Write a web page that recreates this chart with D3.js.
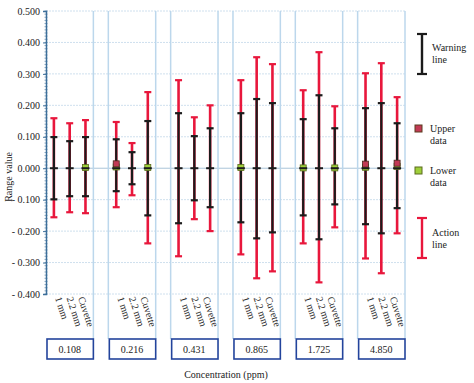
<!doctype html>
<meta charset="utf-8" />
<script src="https://cdn.jsdelivr.net/npm/d3@7"></script>
<style>
    body {
        margin: 0;
        background: white;
    }

    text {
        font-family: "Liberation Serif", "Times New Roman", Times, "DejaVu Serif", serif;
        font-size: 10px;
        fill: #222;
    }

    svg {
        display: block
    }
</style>
<svg id="chart"></svg>
<script>
    // concentrations (ppm), one group per value
    var groups = ['0.108', '0.216', '0.431', '0.865', '1.725', '4.850'];
    var cells = ['1 mm', '2.2 mm', 'Cuvette'];

    // action line limits (red), per group, per cell
    var actionHigh = [
        [0.159, 0.143, 0.153], [0.147, 0.080, 0.242], [0.280, 0.162, 0.200],
        [0.280, 0.353, 0.331], [0.248, 0.369, 0.197], [0.302, 0.334, 0.226]];
    var actionLow = [
        [-0.156, -0.140, -0.143], [-0.124, -0.086, -0.239], [-0.280, -0.162, -0.200],
        [-0.274, -0.350, -0.328], [-0.239, -0.363, -0.188], [-0.287, -0.334, -0.207]];
    // warning line limits (black)
    var warnHigh = [
        [0.099, 0.086, 0.099], [0.092, 0.051, 0.150], [0.175, 0.102, 0.127],
        [0.175, 0.220, 0.207], [0.156, 0.232, 0.127], [0.191, 0.207, 0.143]];
    var warnLow = [
        [-0.099, -0.089, -0.089], [-0.073, -0.051, -0.150], [-0.175, -0.102, -0.124],
        [-0.172, -0.223, -0.204], [-0.150, -0.226, -0.115], [-0.178, -0.207, -0.127]];
    // upper / lower data points (null where hidden)
    var upperData = [
        [null, null, 0.004], [0.014, null, 0.003], [null, null, null],
        [0.006, null, null], [0.003, null, 0.003], [0.013, null, 0.016]];
    var lowerData = [
        [null, null, 0.002], [0.004, null, 0.002], [null, null, null],
        [0.002, null, null], [0.001, null, 0.001], [0.003, null, 0.006]];

    var yTicks = [0.5, 0.4, 0.3, 0.2, 0.1, 0, -0.1, -0.2, -0.3, -0.4];

    var width = 474, height = 383;
    var svg = d3.select('svg#chart')
        .attr('width', width)
        .attr('height', height);

    var plotLeft = 46, plotRight = 405, plotTop = 11, plotBottom = 294;
    var red = '#e8173c', black = '#1b1b1b', blue = '#bcd7ec';

    var y = d3.scaleLinear().domain([-0.4, 0.5]).range([plotBottom, plotTop]);
    var x0 = d3.scaleBand().domain(groups).range([plotLeft, plotRight])
        .paddingInner(0.24).paddingOuter(0);
    var x1 = d3.scalePoint().domain(cells).range([0, x0.bandwidth()]).padding(0.5);
    var xl = d3.scalePoint().domain(cells).range([9, 32]);

    // horizontal grid
    svg.append('g')
        .selectAll('line')
        .data(yTicks)
        .enter()
        .append('line')
        .attr('x1', plotLeft)
        .attr('x2', plotRight)
        .attr('y1', d => y(d))
        .attr('y2', d => y(d))
        .style('stroke', d => d === 0 ? '#a9c4d8' : '#cfe0ee')
        .style('stroke-width', 1)
        .style('stroke-dasharray', d => d === 0 ? null : '2,1');

    // group boundaries + boxes
    var g = svg.selectAll('g.group')
        .data(groups)
        .enter()
        .append('g')
        .attr('class', 'group')
        .attr('transform', d => 'translate(' + x0(d) + ',0)');

    g.filter((d, i) => i > 0).append('line')
        .attr('x1', 0).attr('x2', 0)
        .attr('y1', plotTop).attr('y2', 339)
        .style('stroke', blue).style('stroke-width', 1.5);
    g.append('line')
        .attr('x1', x0.bandwidth()).attr('x2', x0.bandwidth())
        .attr('y1', plotTop).attr('y2', 339)
        .style('stroke', blue).style('stroke-width', 1.5);

    g.append('rect')
        .attr('x', 1)
        .attr('y', 339)
        .attr('width', x0.bandwidth() - 1)
        .attr('height', 20)
        .style('fill', 'white')
        .style('stroke', '#23449c')
        .style('stroke-width', 1.6);
    g.append('text')
        .attr('x', x0.bandwidth() / 2)
        .attr('y', 353)
        .attr('text-anchor', 'middle')
        .text(d => d);

    g.selectAll('text.cell')
        .data(cells)
        .enter()
        .append('text')
        .attr('class', 'cell')
        .attr('transform', d => 'translate(' + xl(d) + ',298) rotate(72)')
        .text(d => d);

    // error bars
    function errBar(sel, lo, hi, color, cap, w) {
        sel.append('line')
            .attr('x1', 0).attr('x2', 0)
            .attr('y1', d => y(d[hi])).attr('y2', d => y(d[lo]))
            .style('stroke', color).style('stroke-width', w);
        [lo, hi].forEach(function (k) {
            sel.append('line')
                .attr('x1', -cap / 2).attr('x2', cap / 2)
                .attr('y1', d => y(d[k])).attr('y2', d => y(d[k]))
                .style('stroke', color).style('stroke-width', 2.2);
        });
    }

    var bars = g.selectAll('g.bar')
        .data((d, gi) => cells.map((c, ci) => ({
            cell: c,
            aHi: actionHigh[gi][ci], aLo: actionLow[gi][ci],
            wHi: warnHigh[gi][ci], wLo: warnLow[gi][ci],
            up: upperData[gi][ci], lo: lowerData[gi][ci]
        })))
        .enter()
        .append('g')
        .attr('class', 'bar')
        .attr('transform', d => 'translate(' + x1(d.cell) + ',0)');

    errBar(bars, 'aLo', 'aHi', red, 7, 2.6);
    errBar(bars, 'wLo', 'wHi', black, 7, 2.2);

    bars.filter(d => d.lo !== null).append('rect')
        .attr('x', -3).attr('y', d => y(d.lo) - 3)
        .attr('width', 6).attr('height', 6)
        .style('fill', '#9fcf3a').style('stroke', '#5a6b1e').style('stroke-width', 0.8);
    bars.filter(d => d.up !== null && d.up - d.lo > 0.006).append('rect')
        .attr('x', -3).attr('y', d => y(d.up) - 3)
        .attr('width', 6).attr('height', 6)
        .style('fill', '#c23a55').style('stroke', '#4a2a1e').style('stroke-width', 0.8);

    bars.append('line')
        .attr('x1', -4).attr('x2', 4)
        .attr('y1', y(0)).attr('y2', y(0))
        .style('stroke', black).style('stroke-width', 2);

    // y axis
    var fmt = d3.format('.3f');
    var axis = d3.axisLeft(y)
        .tickValues(yTicks)
        .tickSize(3)
        .tickFormat(d => d < -0.0001 ? '- ' + fmt(-d) : fmt(Math.abs(d)));
    var ax = svg.append('g')
        .attr('transform', 'translate(' + plotLeft + ',0)')
        .call(axis);
    ax.attr('font-family', null).attr('font-size', null);
    ax.select('.domain').style('stroke', '#3d6f9a').style('stroke-width', 1.5);
    ax.selectAll('.tick line').style('stroke', '#3d6f9a');
    ax.selectAll('.tick text')
        .attr('x', -6)
        .style('fill', '#222');

    // minor ticks
    svg.append('g')
        .selectAll('line')
        .data(d3.range(-40, 51).map(d => d / 100))
        .enter()
        .append('line')
        .attr('x1', plotLeft - 1.5)
        .attr('x2', plotLeft + 1.5)
        .attr('y1', d => y(d))
        .attr('y2', d => y(d))
        .style('stroke', '#3d6f9a')
        .style('stroke-width', 0.6);

    svg.append('text')
        .attr('transform', 'translate(12,177) rotate(-90)')
        .attr('text-anchor', 'middle')
        .text('Range value');

    svg.append('text')
        .attr('x', 226)
        .attr('y', 378)
        .attr('text-anchor', 'middle')
        .text('Concentration (ppm)');

    // legend
    var lg = svg.append('g');
    function legBar(y1, y2, color) {
        lg.append('line').attr('x1', 422).attr('x2', 422).attr('y1', y1).attr('y2', y2)
            .style('stroke', color).style('stroke-width', 2.4);
        [y1, y2].forEach(function (v) {
            lg.append('line').attr('x1', 417).attr('x2', 427).attr('y1', v).attr('y2', v)
                .style('stroke', color).style('stroke-width', 2.2);
        });
    }
    function legText(x, y0, lines) {
        var t = lg.append('text').attr('x', x).attr('y', y0);
        lines.forEach(function (s, i) {
            t.append('tspan').attr('x', x).attr('dy', i ? 12 : 0).text(s);
        });
    }
    legBar(34, 74, black);
    legText(432, 51, ['Warning', 'line']);

    lg.append('rect').attr('x', 415).attr('y', 125).attr('width', 7).attr('height', 7)
        .style('fill', '#c23a55').style('stroke', '#5a3b1e');
    legText(430, 132, ['Upper', 'data']);

    lg.append('rect').attr('x', 415).attr('y', 167).attr('width', 7).attr('height', 7)
        .style('fill', '#9fcf3a').style('stroke', '#5a6b1e');
    legText(430, 174, ['Lower', 'data']);

    legBar(218, 258, red);
    legText(432, 236, ['Action', 'line']);
</script>
